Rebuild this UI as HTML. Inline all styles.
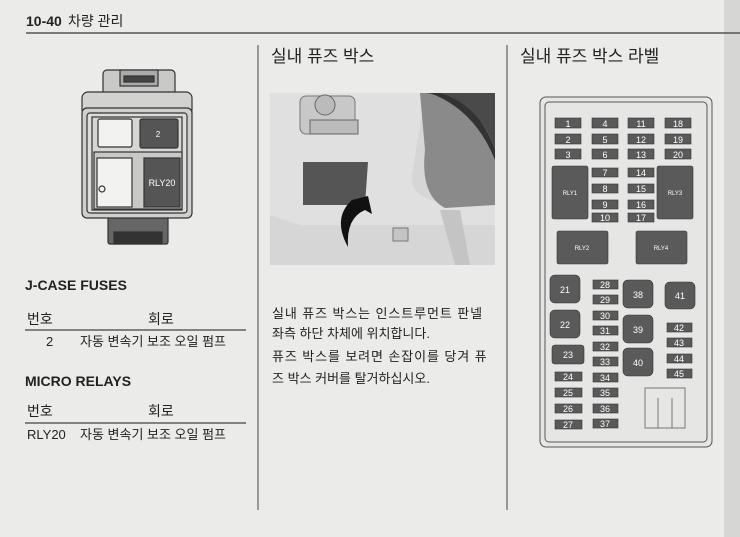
<!DOCTYPE html>
<html><head><meta charset="utf-8"><style>
html,body{margin:0;padding:0;background:#ebebe9;}
svg{display:block}
text{font-family:"Liberation Sans","Noto Sans CJK KR",sans-serif;fill:#222}
</style></head><body>
<svg width="740" height="537" viewBox="0 0 740 537" xmlns="http://www.w3.org/2000/svg">
<rect width="740" height="537" fill="#ebebe9"/>
<rect x="724" y="0" width="16" height="537" fill="#d6d6d4"/>
<!-- header -->
<text x="26" y="26" font-size="14" font-weight="bold">10-40</text>
<text x="68" y="26" font-size="14" fill="#333">차량 관리</text>
<line x1="26" y1="33" x2="740" y2="33" stroke="#555" stroke-width="1.5"/>
<!-- dividers -->
<line x1="258" y1="45" x2="258" y2="510" stroke="#444" stroke-width="1"/>
<line x1="507" y1="45" x2="507" y2="510" stroke="#444" stroke-width="1"/>

<!-- left J-case diagram -->
<g stroke="#333" stroke-width="1.2">
<rect x="103" y="70" width="72" height="40" rx="4" fill="#c9c9c7"/>
<rect x="120" y="70" width="38" height="16" fill="#aaa"/>
<rect x="124" y="76" width="30" height="6" fill="#444"/>
<rect x="82" y="92" width="110" height="24" rx="6" fill="#d2d2d0"/>
<rect x="108" y="214" width="60" height="30" rx="2" fill="#666"/>
<rect x="114" y="232" width="48" height="12" fill="#333"/>
<rect x="82" y="108" width="110" height="110" rx="5" fill="#cfcfcd"/>
<rect x="87" y="113" width="100" height="100" rx="3" fill="#dcdcda"/>
<rect x="92" y="117" width="90" height="93" fill="#d6d6d4"/>
<rect x="98" y="119" width="34" height="28" rx="2" fill="#f2f2f0"/>
<rect x="140" y="119" width="38" height="29" rx="2" fill="#555"/>
<rect x="94" y="152" width="88" height="57" fill="#c8c8c6"/>
<rect x="97" y="158" width="35" height="49" fill="#f2f2f0"/>
<rect x="144" y="158" width="36" height="49" fill="#555"/>
<circle cx="102" cy="189" r="3" fill="none"/>
</g>
<text x="158" y="137" font-size="8" style="fill:#fff" text-anchor="middle">2</text>
<text x="162" y="186" font-size="9" style="fill:#fff" text-anchor="middle">RLY20</text>

<!-- left tables -->
<text x="25" y="290" font-size="14" font-weight="bold">J-CASE FUSES</text>
<text x="27" y="324" font-size="14" fill="#333">번호</text>
<text x="148" y="324" font-size="14" fill="#333">회로</text>
<line x1="25" y1="330" x2="246" y2="330" stroke="#444" stroke-width="1.2"/>
<text x="46" y="346" font-size="13">2</text>
<text x="80" y="346" font-size="13">자동 변속기 보조 오일 펌프</text>
<text x="25" y="386" font-size="14" font-weight="bold">MICRO RELAYS</text>
<text x="27" y="416" font-size="14" fill="#333">번호</text>
<text x="148" y="416" font-size="14" fill="#333">회로</text>
<line x1="25" y1="423" x2="246" y2="423" stroke="#444" stroke-width="1.2"/>
<text x="27" y="439" font-size="13">RLY20</text>
<text x="80" y="439" font-size="13">자동 변속기 보조 오일 펌프</text>

<!-- middle -->
<text x="271" y="62" font-size="17" fill="#222">실내 퓨즈 박스</text>
<rect x="270" y="93" width="225" height="172" fill="#d6d6d6"/>
<path d="M270 93 H425 L412 175 Q408 200 455 205 H495 V225 L300 225 L270 215Z" fill="#e0e0e0"/>
<path d="M420 93 H495 V205 L445 208 Q420 195 425 150Z" fill="#8a8a8a"/>
<path d="M425 93 Q480 100 495 150 V93Z" fill="#4a4a4a"/>
<path d="M430 93 Q475 110 495 160 V150 Q480 105 440 93Z" fill="#333"/>
<rect x="300" y="96" width="55" height="38" rx="6" fill="#c8c8c8" stroke="#777"/>
<circle cx="325" cy="105" r="10" fill="#bbb" stroke="#666"/>
<rect x="310" y="120" width="48" height="14" fill="#bbb" stroke="#666"/>
<path d="M303 162 H368 L365 205 H303Z" fill="#555"/>
<path d="M352 200 Q332 218 348 247 Q346 218 365 210 L372 214 L368 196Z" fill="#111"/>
<rect x="393" y="228" width="15" height="13" fill="#c4c4c4" stroke="#777"/>
<path d="M440 210 L455 265 H470 L460 210Z" fill="#c4c4c4"/>
<text x="272" y="318" font-size="13" letter-spacing="0.9">실내 퓨즈 박스는 인스트루먼트 판넬</text>
<text x="272" y="338" font-size="13">좌측 하단 차체에 위치합니다.</text>
<text x="272" y="361" font-size="13" letter-spacing="0.9">퓨즈 박스를 보려면 손잡이를 당겨 퓨</text>
<text x="272" y="383" font-size="13">즈 박스 커버를 탈거하십시오.</text>

<!-- right -->
<text x="520" y="62" font-size="17" fill="#222">실내 퓨즈 박스 라벨</text>
<g stroke="#555" stroke-width="1" fill="none">
<rect x="540" y="97" width="172" height="350" rx="6" fill="#e6e6e4"/>
<rect x="545" y="102" width="162" height="340" rx="4"/>
</g>
<g fill="#5a5a5a" stroke="#333" stroke-width="0.6">
<rect x="555" y="118" width="26" height="10"/><rect x="555" y="134" width="26" height="10"/><rect x="555" y="149" width="26" height="10"/>
<rect x="592" y="118" width="26" height="10"/><rect x="592" y="134" width="26" height="10"/><rect x="592" y="149" width="26" height="10"/>
<rect x="628" y="118" width="26" height="10"/><rect x="628" y="134" width="26" height="10"/><rect x="628" y="149" width="26" height="10"/>
<rect x="665" y="118" width="26" height="10"/><rect x="665" y="134" width="26" height="10"/><rect x="665" y="149" width="26" height="10"/>
<rect x="592" y="168" width="26" height="9"/><rect x="592" y="184" width="26" height="9"/><rect x="592" y="200" width="26" height="9"/><rect x="592" y="213" width="26" height="9"/>
<rect x="628" y="168" width="26" height="9"/><rect x="628" y="184" width="26" height="9"/><rect x="628" y="200" width="26" height="9"/><rect x="628" y="213" width="26" height="9"/>
<rect x="552" y="166" width="36" height="53" rx="2"/>
<rect x="657" y="166" width="36" height="53" rx="2"/>
<rect x="557" y="231" width="51" height="33" rx="2"/>
<rect x="636" y="231" width="51" height="33" rx="2"/>
<rect x="550" y="275" width="30" height="28" rx="5"/>
<rect x="550" y="310" width="30" height="28" rx="5"/>
<rect x="552" y="345" width="32" height="19" rx="3"/>
<rect x="623" y="280" width="30" height="28" rx="5"/>
<rect x="623" y="315" width="30" height="28" rx="5"/>
<rect x="623" y="348" width="30" height="28" rx="5"/>
<rect x="665" y="282" width="30" height="27" rx="5"/>
<rect x="555" y="372" width="27" height="9"/><rect x="555" y="388" width="27" height="9"/><rect x="555" y="404" width="27" height="9"/><rect x="555" y="420" width="27" height="9"/>
<rect x="667" y="323" width="25" height="9"/><rect x="667" y="338" width="25" height="9"/><rect x="667" y="354" width="25" height="9"/><rect x="667" y="369" width="25" height="9"/>
<rect x="593" y="280" width="25" height="9"/><rect x="593" y="295" width="25" height="9"/><rect x="593" y="311" width="25" height="9"/><rect x="593" y="326" width="25" height="9"/><rect x="593" y="342" width="25" height="9"/><rect x="593" y="357" width="25" height="9"/><rect x="593" y="373" width="25" height="9"/><rect x="593" y="388" width="25" height="9"/><rect x="593" y="404" width="25" height="9"/><rect x="593" y="419" width="25" height="9"/>
</g>
<g text-anchor="middle" font-size="9">
<text x="568" y="127" style="fill:#fff">1</text><text x="568" y="143" style="fill:#fff">2</text><text x="568" y="158" style="fill:#fff">3</text>
<text x="605" y="127" style="fill:#fff">4</text><text x="605" y="143" style="fill:#fff">5</text><text x="605" y="158" style="fill:#fff">6</text>
<text x="641" y="127" style="fill:#fff">11</text><text x="641" y="143" style="fill:#fff">12</text><text x="641" y="158" style="fill:#fff">13</text>
<text x="678" y="127" style="fill:#fff">18</text><text x="678" y="143" style="fill:#fff">19</text><text x="678" y="158" style="fill:#fff">20</text>
<text x="605" y="176" style="fill:#fff">7</text><text x="605" y="192" style="fill:#fff">8</text><text x="605" y="208" style="fill:#fff">9</text><text x="605" y="221" style="fill:#fff">10</text>
<text x="641" y="176" style="fill:#fff">14</text><text x="641" y="192" style="fill:#fff">15</text><text x="641" y="208" style="fill:#fff">16</text><text x="641" y="221" style="fill:#fff">17</text>
<text x="570" y="195" font-size="6" style="fill:#fff">RLY1</text>
<text x="675" y="195" font-size="6" style="fill:#fff">RLY3</text>
<text x="582" y="250" font-size="6" style="fill:#fff">RLY2</text>
<text x="661" y="250" font-size="6" style="fill:#fff">RLY4</text>
<text x="565" y="293" style="fill:#fff">21</text><text x="565" y="328" style="fill:#fff">22</text><text x="568" y="358" style="fill:#fff">23</text>
<text x="638" y="298" style="fill:#fff">38</text><text x="638" y="333" style="fill:#fff">39</text><text x="638" y="366" style="fill:#fff">40</text>
<text x="680" y="299" style="fill:#fff">41</text>
<text x="568" y="380" style="fill:#fff">24</text><text x="568" y="396" style="fill:#fff">25</text><text x="568" y="412" style="fill:#fff">26</text><text x="568" y="428" style="fill:#fff">27</text>
<text x="679" y="331" style="fill:#fff">42</text><text x="679" y="346" style="fill:#fff">43</text><text x="679" y="362" style="fill:#fff">44</text><text x="679" y="377" style="fill:#fff">45</text>
<text x="605" y="288" style="fill:#fff">28</text><text x="605" y="303" style="fill:#fff">29</text><text x="605" y="319" style="fill:#fff">30</text><text x="605" y="334" style="fill:#fff">31</text><text x="605" y="350" style="fill:#fff">32</text><text x="605" y="365" style="fill:#fff">33</text><text x="605" y="381" style="fill:#fff">34</text><text x="605" y="396" style="fill:#fff">35</text><text x="605" y="412" style="fill:#fff">36</text><text x="605" y="427" style="fill:#fff">37</text>
</g>
<g stroke="#777" fill="none">
<rect x="645" y="388" width="40" height="40"/>
<line x1="658" y1="398" x2="658" y2="428"/><line x1="672" y1="398" x2="672" y2="428"/>
</g>
</svg>
</body></html>
